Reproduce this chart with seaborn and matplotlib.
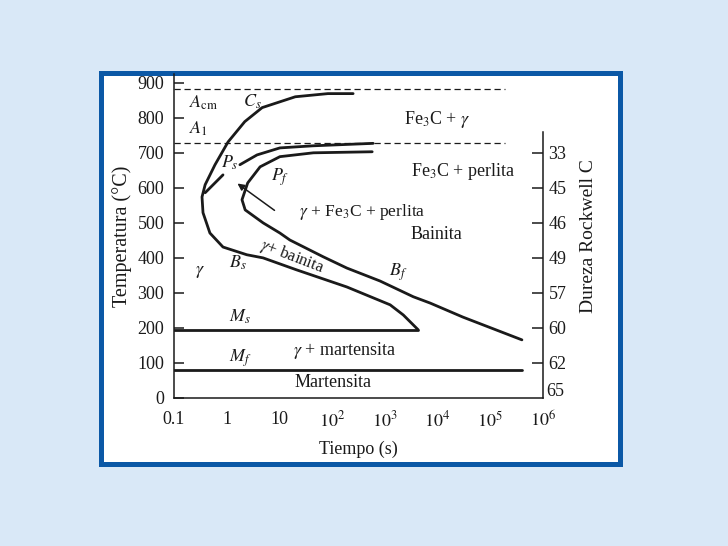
import matplotlib
matplotlib.use("Agg")
import matplotlib.pyplot as plt
from matplotlib.patches import Rectangle
import seaborn as sns

# Curvas del diagrama TTT (tiempo en s, temperatura en °C)
cs_t = [250, 83, 20, 4.7, 2.2, 1.06, 0.60, 0.39, 0.34, 0.355, 0.48, 0.85, 2.4, 4.9, 21, 190, 1260, 2240, 4270]
cs_T = [869, 869, 860, 829, 789, 731, 666, 609, 574, 529, 471, 431, 409, 400, 366, 317, 266, 237, 195]

ps1_t = [0.39, 0.85]
ps1_T = [586, 637]
ps2_t = [1.78, 3.76, 10.2, 43.6, 600]
ps2_T = [666, 694, 714, 720, 727]

pf_t = [575, 44, 10.2, 4.3, 2.5, 1.95, 2.24, 4.9, 10.2, 15.8, 68, 190, 810, 3470, 7240, 30200, 398000]
pf_T = [703, 700, 689, 660, 614, 566, 537, 500, 471, 451, 403, 371, 334, 289, 271, 231, 166]

ms_t = [0.1, 4270]
ms_T = [195, 195]
mf_t = [0.1, 398000]
mf_T = [80, 80]

acm_t = [0.1, 1.9e5]
acm_T = [883, 883]
a1_t = [0.1, 1.9e5]
a1_T = [727, 727]

x_ticks = [0.1, 1, 10, 1e2, 1e3, 1e4, 1e5, 1e6]
x_labels = ["0.1", "1", "10", r"$10^2$", r"$10^3$", r"$10^4$", r"$10^5$", r"$10^6$"]
y_ticks = [0, 100, 200, 300, 400, 500, 600, 700, 800, 900]
hrc_pos = [700, 600, 500, 400, 300, 200, 100]
hrc_labels = ["33", "45", "46", "49", "57", "60", "62"]

sns.set_theme(style="white")
plt.rcParams["font.family"] = ["Liberation Serif", "DejaVu Serif"]
plt.rcParams["mathtext.fontset"] = "stix"

fig = plt.figure(figsize=(7.28, 5.46), dpi=100, facecolor="#d9e8f7")

# panel blanco con borde azul
fig.patches.append(Rectangle((100.5 / 728, 1 - 463.5 / 546), 519 / 728, 391 / 546,
                             transform=fig.transFigure, facecolor="white",
                             edgecolor="#0b58a6", linewidth=3.6, zorder=-10))

ax = fig.add_axes([174 / 728, 1 - 398 / 546, 369 / 728, (398 - 74) / 546])
ax.set_facecolor("none")
ax.set_xscale("log")
ax.set_xlim(0.1, 1e6)
ax.set_ylim(0, 925)

kw = dict(color="#1a1a1a", linewidth=2.0, sort=False, estimator=None, ax=ax)
sns.lineplot(x=cs_t, y=cs_T, **kw)
sns.lineplot(x=ps1_t, y=ps1_T, **kw)
sns.lineplot(x=ps2_t, y=ps2_T, **kw)
sns.lineplot(x=pf_t, y=pf_T, **kw)
sns.lineplot(x=ms_t, y=ms_T, **kw)
sns.lineplot(x=mf_t, y=mf_T, **kw)
sns.lineplot(x=acm_t, y=acm_T, color="#1a1a1a", linewidth=0.9, linestyle=(0, (5, 3)),
             sort=False, estimator=None, ax=ax)
sns.lineplot(x=a1_t, y=a1_T, color="#1a1a1a", linewidth=0.9, linestyle=(0, (5, 3)),
             sort=False, estimator=None, ax=ax)

ax.annotate("", xy=(1.45, 617), xytext=(8.9, 531),
            arrowprops=dict(arrowstyle="-|>", color="#1a1a1a", lw=1.1, mutation_scale=10))

txt = dict(color="#1a1a1a", fontsize=13, ha="center", va="center")
ax.text(0.193, 843, r"$A_{\mathrm{cm}}$", **{**txt, "ha": "left"})
ax.text(0.193, 769, r"$A_1$", **{**txt, "ha": "left"})
ax.text(3.0, 846, r"$C_s$", **txt)
ax.text(1.16, 671, r"$P_s$", **txt)
ax.text(10.2, 629, r"$P_f$", **txt)
ax.text(370, 531, r"$\gamma$ + Fe$_3$C + perlita", **{**txt, "fontsize": 12.5})
ax.text(1.0e4, 794, r"Fe$_3$C + $\gamma$", **txt)
ax.text(3.0e4, 646, r"Fe$_3$C + perlita", **txt)
ax.text(9300, 466, "Bainita", **txt)
ax.text(17, 404, r"$\gamma$+ bainita", rotation=-21, rotation_mode="anchor",
        **{**txt, "fontsize": 12})
ax.text(1.62, 386, r"$B_s$", **txt)
ax.text(1780, 360, r"$B_f$", **txt)
ax.text(0.31, 360, r"$\gamma$", **txt)
ax.text(1.8, 231, r"$M_s$", **txt)
ax.text(1.8, 114, r"$M_f$", **txt)
ax.text(176, 137, r"$\gamma$ + martensita", **txt)
ax.text(105, 43, "Martensita", **txt)

ax.set_xticks(x_ticks)
ax.set_xticklabels(x_labels)
ax.minorticks_off()
ax.set_yticks(y_ticks)
ax.tick_params(direction="in", length=7, width=1.1, colors="#1a1a1a",
               labelsize=13, pad=7)
ax.tick_params(axis="x", pad=9)
ax.spines["top"].set_visible(False)
ax.spines["right"].set_visible(False)
for s in ("left", "bottom"):
    ax.spines[s].set_color("#1a1a1a")
    ax.spines[s].set_linewidth(1.1)
ax.set_xlabel("Tiempo (s)", fontsize=13, color="#1a1a1a", labelpad=7)
ax.set_ylabel("Temperatura (°C)", fontsize=14.5, color="#1a1a1a", labelpad=4)

# eje de dureza a la derecha
ax2 = ax.twinx()
ax2.set_ylim(ax.get_ylim())
ax2.set_yticks(hrc_pos)
ax2.set_yticklabels(hrc_labels)
ax2.tick_params(direction="in", length=8, width=1.1, colors="#1a1a1a", labelsize=13, pad=4)
for s in ("top", "left", "bottom"):
    ax2.spines[s].set_visible(False)
ax2.spines["right"].set_bounds(0, 760)
ax2.spines["right"].set_color("#1a1a1a")
ax2.spines["right"].set_linewidth(1.1)
ax2.text(1.01, 0.02, "65", transform=ax2.transAxes, fontsize=13, color="#1a1a1a",
         va="center", ha="left")
ax2.set_ylabel("Dureza Rockwell C", fontsize=14, color="#1a1a1a", labelpad=10)

fig.savefig("out.png", dpi=100, facecolor=fig.get_facecolor())
